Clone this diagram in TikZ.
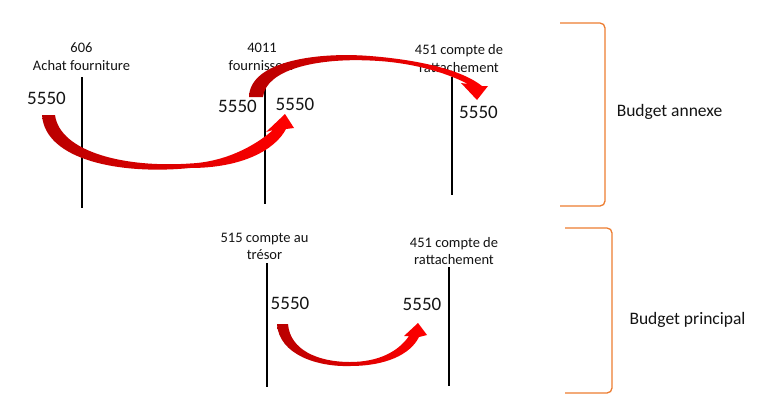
\documentclass[tikz,border=0pt]{standalone}
\usepackage{fontspec}
\setmainfont{Carlito}
\definecolor{bracketorange}{RGB}{237,125,49}
\definecolor{arrowdark}{RGB}{185,0,0}
\definecolor{arrowlight}{RGB}{255,0,0}
\definecolor{txt}{RGB}{20,20,20}
\begin{document}
\begin{tikzpicture}[x=1pt,y=-1pt,
  acct/.style={font=\fontsize{14.5}{17}\selectfont, anchor=base, inner sep=0pt, text=txt},
  amount/.style={font=\fontsize{19}{22}\selectfont, anchor=base, inner sep=0pt, text=txt},
  budget/.style={font=\fontsize{17.5}{20}\selectfont, anchor=base, inner sep=0pt, text=txt},
  tline/.style={line width=1.6pt, black},
  brace/.style={draw=bracketorange, line width=1.3pt, rounded corners=5pt},
  flow/.style={left color=arrowdark, right color=arrowlight, draw=none}]
\useasboundingbox[fill=white] (0,0) rectangle (768,402);

% T-account lines
\coordinate (l1t) at (82,77);  \coordinate (l1b) at (82,208);
\coordinate (l2t) at (265,80); \coordinate (l2b) at (265,204);
\coordinate (l3t) at (452,77); \coordinate (l3b) at (452,195);
\coordinate (l4t) at (267,263); \coordinate (l4b) at (267,387);
\coordinate (l5t) at (449,267); \coordinate (l5b) at (449,386);
\draw[tline] (l1t) -- (l1b);
\draw[tline] (l2t) -- (l2b);
\draw[tline] (l3t) -- (l3b);
\draw[tline] (l4t) -- (l4b);
\draw[tline] (l5t) -- (l5b);

% account titles
\node[acct] (t606) at (81.5,52) {606};
\node[acct] (t606b) at (81.5,70) {Achat fourniture};
\node[acct] (t4011) at (262,52) {4011};
\node[acct] (t4011b) at (262,70) {fournisseur};
\node[acct] (t451) at (459,54) {451 compte de};
\node[acct] (t451b) at (459,72) {rattachement};
\node[acct] (t515) at (264.5,242) {515 compte au};
\node[acct] (t515b) at (264.5,259) {trésor};
\node[acct] (u451) at (454,247) {451 compte de};
\node[acct] (u451b) at (454,264) {rattachement};

% amounts
\node[amount] (m1) at (46.5,104) {5550};
\node[amount] (m2) at (237.5,112) {5550};
\node[amount] (m3) at (295,110) {5550};
\node[amount] (m4) at (478.5,118) {5550};
\node[amount] (m5) at (290,309) {5550};
\node[amount] (m6) at (422,310) {5550};

% curved arrows
\path[flow] (55,115) -- (42,115) .. controls (45,160) and (120,175) .. (190,168)
  .. controls (242,168) and (275,150) .. (286,129) -- (294,128) -- (285,114) -- (266,132) -- (273,130)
  .. controls (255,146) and (225,162) .. (190,163.5) .. controls (125,168) and (60,152) .. (55,115) -- cycle;
\path[flow] (263,97) -- (249,97) .. controls (250,60) and (320,52) .. (370,56)
  .. controls (420,60) and (462,70) .. (482,86) -- (488,86) -- (477,100) -- (461,83) -- (468,84)
  .. controls (445,72) and (410,62) .. (370,60.5) .. controls (315,58) and (266,70) .. (263,97) -- cycle;
\path[flow] (288,324) -- (277,324) .. controls (279,355) and (318,367) .. (350,366)
  .. controls (385,366) and (410,355) .. (419,337) -- (427,335) -- (418,323) -- (404,336) -- (409,336)
  .. controls (398,352) and (378,362) .. (350,362) .. controls (318,362) and (290,350) .. (288,324) -- cycle;

% brackets
\draw[brace] (560,23) -- (605,23) -- (605,206) -- (560,206);
\draw[brace] (565,228) -- (612,228) -- (612,393) -- (565,393);
\node[budget] (ba) at (669.5,116) {Budget annexe};
\node[budget] (bp) at (687.5,324) {Budget principal};
\end{tikzpicture}
\end{document}
